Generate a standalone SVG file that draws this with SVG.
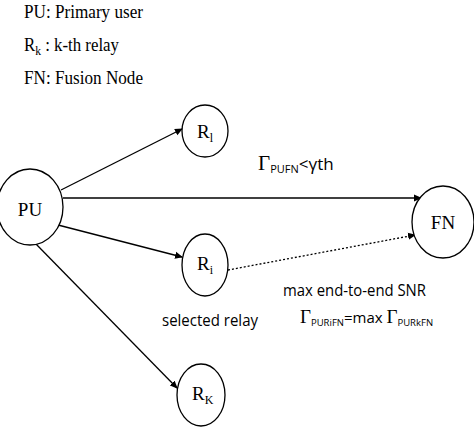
<svg xmlns="http://www.w3.org/2000/svg" width="474" height="427" viewBox="0 0 474 427">
<defs>
<style>
.node{fill:#fff;stroke:#000;stroke-width:1.3}
.t{font-family:"Liberation Serif",serif;fill:#000}
.s{font-family:"Open Sans","Liberation Sans",sans-serif;fill:#000}
.edge{stroke:#000;stroke-width:1.3;fill:none}
</style>
<marker id="ah" markerWidth="8" markerHeight="8" refX="7" refY="4" orient="auto" markerUnits="userSpaceOnUse">
<path d="M0,0.5 L8,4 L0,7.5 z" fill="#000"/>
</marker>
</defs>
<rect width="474" height="427" fill="#fff"/>
<g id="legend" class="t" font-size="19">
<text x="24" y="18" textLength="119" lengthAdjust="spacingAndGlyphs">PU: Primary user</text>
<text x="24" y="51" textLength="95" lengthAdjust="spacingAndGlyphs">R<tspan font-size="13" dy="4">k</tspan><tspan dy="-4"> : k-th relay</tspan></text>
<text x="24" y="84" textLength="119" lengthAdjust="spacingAndGlyphs">FN: Fusion Node</text>
</g>
<g id="connectors">
<line class="edge" x1="61" y1="190" x2="182" y2="129" marker-end="url(#ah)"/>
<line class="edge" x1="63" y1="198" x2="421" y2="198" stroke="#555" marker-end="url(#ah)"/>
<line class="edge" x1="58" y1="225" x2="182" y2="257" marker-end="url(#ah)"/>
<line class="edge" x1="35" y1="243" x2="177" y2="388" marker-end="url(#ah)"/>
<line class="edge" x1="228" y1="270" x2="415" y2="235" stroke-dasharray="2,2" stroke-width="1.1" marker-end="url(#ah)"/>
</g>
<g id="PU">
<ellipse class="node" cx="30" cy="207" rx="33" ry="38"/>
<text class="t" x="30" y="216" font-size="19" text-anchor="middle">PU</text>
</g>
<g id="R1">
<ellipse class="node" cx="205" cy="131" rx="23" ry="26"/>
<text class="t" x="197" y="138" font-size="19">R<tspan font-size="12" dy="4">l</tspan></text>
</g>
<g id="Ri">
<ellipse class="node" cx="205" cy="265" rx="23" ry="31"/>
<text class="t" x="197" y="270" font-size="19">R<tspan font-size="12" dy="4">i</tspan></text>
</g>
<g id="RK">
<ellipse class="node" cx="201" cy="395" rx="24" ry="31"/>
<text class="t" x="192" y="400" font-size="19">R<tspan font-size="12" dy="4">K</tspan></text>
</g>
<g id="FN">
<ellipse class="node" cx="443" cy="222" rx="31" ry="36"/>
<text class="t" x="443" y="229" font-size="19" text-anchor="middle">FN</text>
</g>
<g id="labels">
<text class="s" x="258" y="170" font-size="17"><tspan class="t" font-size="21">Γ</tspan><tspan font-size="11" dy="3">PUFN</tspan><tspan dy="-3">&lt;γth</tspan></text>
<text class="s" x="283" y="296" font-size="16" textLength="143" lengthAdjust="spacingAndGlyphs">max end-to-end SNR</text>
<text class="s" x="300" y="323" font-size="15"><tspan class="t" font-size="19">Γ</tspan><tspan font-size="9.5" dy="3">PURiFN</tspan><tspan dy="-3">=max </tspan><tspan class="t" font-size="19">Γ</tspan><tspan font-size="9.5" dy="3">PURkFN</tspan></text>
<text class="s" x="162" y="326" font-size="17" textLength="96" lengthAdjust="spacingAndGlyphs">selected relay</text>
</g>
</svg>
